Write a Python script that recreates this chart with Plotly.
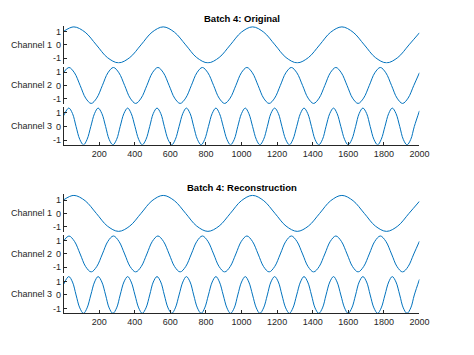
import plotly.graph_objects as go

# ---------------- data ----------------
titles = ["Batch 4: Original", "Batch 4: Reconstruction"]
channel_names = ["Channel 1", "Channel 2", "Channel 3"]
x_tick_vals = [200, 400, 600, 800, 1000, 1200, 1400, 1600, 1800, 2000]
y_tick_vals = [-1, 0, 1]

# Channel 1 (slow wave): points read at peaks, troughs, zero crossings and in between
ch1_x = [1, 58,
         121, 184, 246, 309, 372, 435, 497, 560,
         623, 686, 748, 811, 874, 937, 999, 1062,
         1125, 1188, 1250, 1313, 1376, 1439, 1501, 1564,
         1627, 1690, 1752, 1815, 1878, 1941,
         2000]
ch1_y = [1.02, 1.35,
         0.95, 0, -0.95, -1.35, -0.95, 0, 0.95, 1.35,
         0.95, 0, -0.95, -1.35, -0.95, 0, 0.95, 1.35,
         0.95, 0, -0.95, -1.35, -0.95, 0, 0.95, 1.35,
         0.95, 0, -0.95, -1.35, -0.95, 0,
         0.91]

# Channel 2 (medium wave)
ch2_x = [1, 30,
         61, 93, 124, 155, 186, 218, 249, 280,
         311, 343, 374, 405, 436, 468, 499, 530,
         561, 593, 624, 655, 686, 718, 749, 780,
         811, 843, 874, 905, 936, 968, 999, 1030,
         1061, 1093, 1124, 1155, 1186, 1218, 1249, 1280,
         1311, 1343, 1374, 1405, 1436, 1468, 1499, 1530,
         1561, 1593, 1624, 1655, 1686, 1718, 1749, 1780,
         1811, 1843, 1874, 1905, 1936, 1968,
         2000]
ch2_y = [1.0, 1.35,
         0.95, 0, -0.95, -1.35, -0.95, 0, 0.95, 1.35,
         0.95, 0, -0.95, -1.35, -0.95, 0, 0.95, 1.35,
         0.95, 0, -0.95, -1.35, -0.95, 0, 0.95, 1.35,
         0.95, 0, -0.95, -1.35, -0.95, 0, 0.95, 1.35,
         0.95, 0, -0.95, -1.35, -0.95, 0, 0.95, 1.35,
         0.95, 0, -0.95, -1.35, -0.95, 0, 0.95, 1.35,
         0.95, 0, -0.95, -1.35, -0.95, 0, 0.95, 1.35,
         0.95, 0, -0.95, -1.35, -0.95, 0,
         0.96]

# Channel 3 (fast wave)
ch3_x = [1, 29,
         50, 70, 91, 112, 132, 153, 174, 194,
         215, 236, 256, 277, 298, 318, 339, 360,
         380, 401, 422, 442, 463, 484, 504, 525,
         546, 566, 587, 608, 628, 649, 670, 690,
         711, 731, 752, 773, 793, 814, 835, 856,
         876, 897, 918, 938, 959, 979, 1000, 1021,
         1041, 1062, 1083, 1103, 1124, 1145, 1165, 1186,
         1207, 1227, 1248, 1269, 1289, 1310, 1331, 1351,
         1372, 1393, 1413, 1434, 1455, 1475, 1496, 1517,
         1537, 1558, 1579, 1599, 1620, 1641, 1661, 1682,
         1703, 1723, 1744, 1765, 1785, 1806, 1827, 1847,
         1868, 1889, 1909, 1930, 1951, 1971,
         2000]
ch3_y = [0.8, 1.35,
         0.95, 0, -0.95, -1.35, -0.95, 0, 0.95, 1.35,
         0.95, 0, -0.95, -1.35, -0.95, 0, 0.95, 1.35,
         0.95, 0, -0.95, -1.35, -0.95, 0, 0.95, 1.35,
         0.95, 0, -0.95, -1.35, -0.95, 0, 0.95, 1.35,
         0.95, 0, -0.95, -1.35, -0.95, 0, 0.95, 1.35,
         0.95, 0, -0.95, -1.35, -0.95, 0, 0.95, 1.35,
         0.95, 0, -0.95, -1.35, -0.95, 0, 0.95, 1.35,
         0.95, 0, -0.95, -1.35, -0.95, 0, 0.95, 1.35,
         0.95, 0, -0.95, -1.35, -0.95, 0, 0.95, 1.35,
         0.95, 0, -0.95, -1.35, -0.95, 0, 0.95, 1.35,
         0.95, 0, -0.95, -1.35, -0.95, 0, 0.95, 1.35,
         0.95, 0, -0.95, -1.35, -0.95, 0,
         1.15]

# Reconstruction looks identical to the original in the picture
recon_ch1_y = list(ch1_y)
recon_ch2_y = list(ch2_y)
recon_ch3_y = list(ch3_y)

assert len(ch1_x) == len(ch1_y) and len(ch2_x) == len(ch2_y) and len(ch3_x) == len(ch3_y)

groups = [
    [(ch1_x, ch1_y), (ch2_x, ch2_y), (ch3_x, ch3_y)],
    [(ch1_x, recon_ch1_y), (ch2_x, recon_ch2_y), (ch3_x, recon_ch3_y)],
]
y_ranges = [[-1.4, 1.42], [-1.4, 1.42], [-1.34, 1.42]]

# ---------------- layout geometry ----------------
# The page body puts the figure 8px right and 8px down, so every page
# position below is given minus that offset.
OFF_X, OFF_Y = 8, 8
W, H = 474 - OFF_X, 355 - OFF_Y
LINE = "#0072BD"
AX = "#262626"
FONT = "Arial, Liberation Sans, sans-serif"
left_px, right_px = 65 - OFF_X, 428.5 - OFF_X
group_top = [26 - OFF_Y, 195 - OFF_Y]
ch_h, gap = 37.7, 3.0

fig = go.Figure()
layout = dict(
    width=W, height=H,
    margin=dict(l=0, r=0, t=0, b=0),
    paper_bgcolor="white", plot_bgcolor="white",
    showlegend=False,
    font=dict(family=FONT, size=9, color=AX),
)
annotations = []

for g, chans in enumerate(groups):
    xname = "x" if g == 0 else "x2"
    xkey = "xaxis" if g == 0 else "xaxis2"
    for c, (xs, ys) in enumerate(chans):
        idx = g * 3 + c + 1
        yname = "y" if idx == 1 else f"y{idx}"
        ykey = "yaxis" if idx == 1 else f"yaxis{idx}"
        top = group_top[g] + c * (ch_h + gap)
        bot = top + ch_h
        fig.add_trace(go.Scatter(
            x=xs, y=ys, mode="lines", xaxis=xname, yaxis=yname,
            line=dict(color=LINE, width=1, shape="spline", smoothing=1.0),
            hoverinfo="skip",
        ))
        layout[ykey] = dict(
            domain=[1 - bot / H, 1 - top / H],
            range=y_ranges[c], anchor=xname,
            showline=True, linecolor=AX, linewidth=1,
            ticks="inside", ticklen=3, tickcolor=AX,
            tickvals=y_tick_vals, ticktext=["-1", "0", "1"],
            tickfont=dict(size=9, color=AX, family=FONT),
            showgrid=False, zeroline=False, fixedrange=True,
        )
        annotations.append(dict(
            text=channel_names[c], xref="paper", yref="paper",
            x=(55.5 - OFF_X) / W, y=1 - (top + bot) / 2 / H,
            xanchor="right", yanchor="middle", showarrow=False,
            font=dict(size=9, color=AX, family=FONT),
        ))
        if c == 2:
            layout[xkey] = dict(
                domain=[left_px / W, right_px / W], range=[1, 2000],
                anchor=yname, showline=True, linecolor=AX, linewidth=1,
                ticks="inside", ticklen=3, tickcolor=AX,
                tickvals=x_tick_vals,
                tickfont=dict(size=9, color=AX, family=FONT),
                showgrid=False, zeroline=False, fixedrange=True,
            )
    annotations.append(dict(
        text="<b>" + titles[g] + "</b>", xref="paper", yref="paper",
        x=(left_px + right_px) / 2 / W, y=1 - (group_top[g] - 7) / H,
        xanchor="center", yanchor="middle", showarrow=False,
        font=dict(size=9.5, color="#000000", family=FONT),
    ))

layout["annotations"] = annotations
fig.update_layout(**layout)
fig.write_html("out.html")
